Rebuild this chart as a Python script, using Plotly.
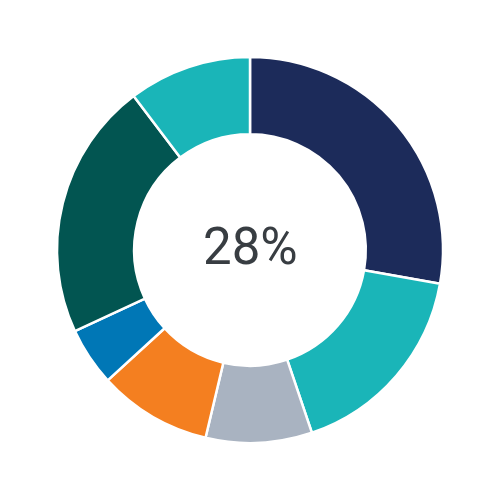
import plotly.graph_objects as go

labels = ["A", "B", "C", "D", "E", "F", "G"]
values = [27.8, 17.0, 8.9, 9.5, 4.9, 21.6, 10.3]
colors = ["#1c2b5a", "#1ab5b8", "#a9b3c1", "#f47f20", "#0077b6", "#025551", "#1ab5b8"]
center_text = "28%"

fig = go.Figure(go.Pie(
    labels=labels, values=values, hole=0.6, sort=False, direction="clockwise",
    rotation=0, marker=dict(colors=colors, line=dict(color="white", width=2.5)),
    textinfo="none", hoverinfo="none",
))
fig.update_layout(
    width=484, height=484, showlegend=False,
    margin=dict(l=49, r=49, t=49, b=49),
    paper_bgcolor="white", plot_bgcolor="white",
    annotations=[dict(text=center_text, x=0.5, y=0.5, xref="paper", yref="paper",
                      yshift=4, showarrow=False,
                      font=dict(family="Roboto", size=51, color="#383d42"))],
)
fig.write_html("out.html")
